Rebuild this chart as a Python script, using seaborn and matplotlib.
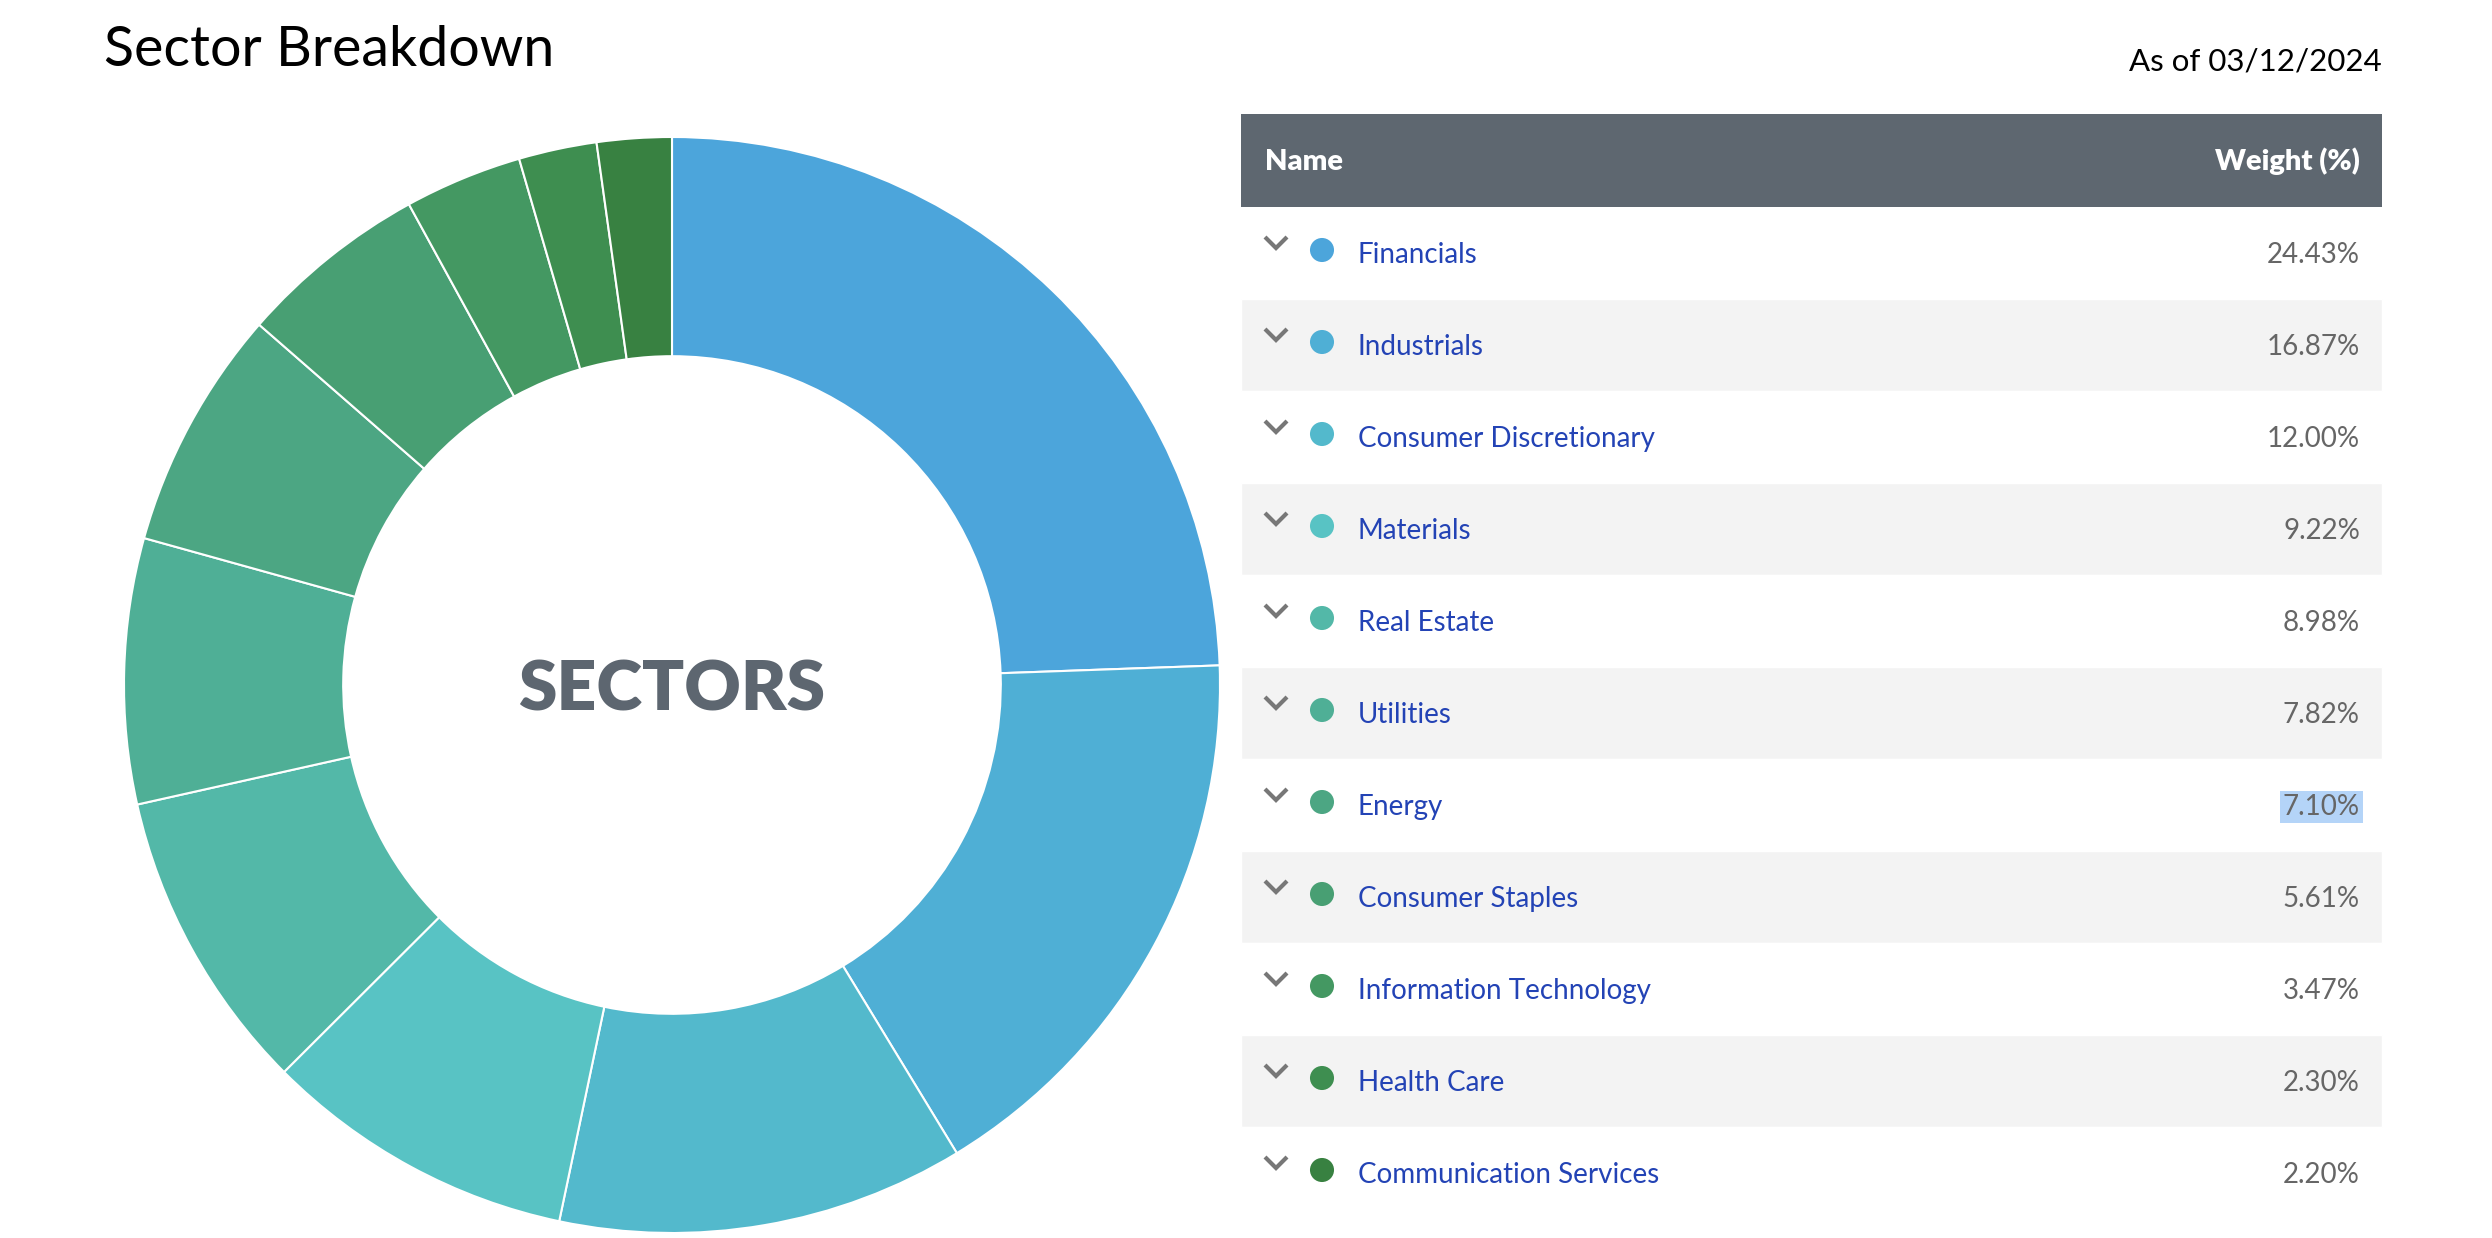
import numpy as np
import matplotlib.pyplot as plt
import seaborn as sns
import pandas as pd

# data
sectors = ["Financials", "Industrials", "Consumer Discretionary", "Materials",
           "Real Estate", "Utilities", "Energy", "Consumer Staples",
           "Information Technology", "Health Care", "Communication Services"]
weights = [24.43, 16.87, 12.00, 9.22, 8.98, 7.82, 7.10, 5.61, 3.47, 2.30, 2.20]
colors = ["#4ca5db", "#4fafd5", "#53b9cc", "#58c3c4", "#53b8a8", "#4faf96",
          "#4ca683", "#489f73", "#449862", "#3e8e50", "#388141"]
title = "Sector Breakdown"
as_of = "As of 03/12/2024"
center_label = "SECTORS"
col_names = ["Name", "Weight (%)"]
highlighted = "Energy"

sns.set_theme(style="white")
plt.rcParams["font.family"] = ["Lato", "DejaVu Sans"]

W, H = 2492, 1238
fig = plt.figure(figsize=(W / 100, H / 100), dpi=100)

# page layer, pixel coords
page = fig.add_axes([0, 0, 1, 1])

tab_l, tab_r = 1241, 2382
head_top, head_bot = 114, 207
row_h = 92

df = pd.DataFrame({"sector": sectors, "weight": weights})
df["yc"] = head_bot + row_h / 2 + row_h * np.arange(len(df))
df["bg"] = ["white" if i % 2 == 0 else "#f3f3f3" for i in range(len(df))]
df["dot_x"] = 1322
df["dot_y"] = df["yc"] - 3

page.barh(df["yc"], tab_r - tab_l, left=tab_l, height=row_h, color=df["bg"])
page.add_patch(plt.Rectangle((tab_l, head_top), tab_r - tab_l, head_bot - head_top,
                             color="#5e6770", lw=0))
page.text(1265, 170, col_names[0], color="white", fontsize=21, fontweight="heavy",
          va="baseline")
page.text(2360, 170, col_names[1], color="white", fontsize=21, fontweight="heavy",
          va="baseline", ha="right")

sns.scatterplot(data=df, x="dot_x", y="dot_y", hue="sector", palette=colors,
                s=300, linewidth=0, legend=False, ax=page)

for _, r in df.iterrows():
    yc = r["yc"]
    page.plot([1265, 1276, 1287], [yc - 16, yc - 5, yc - 16], color="#777777",
              lw=3, solid_joinstyle="miter", solid_capstyle="butt")
    page.text(1358, yc + 10, r["sector"], color="#2343b5", fontsize=20,
              va="baseline")
    box = None
    if r["sector"] == highlighted:
        box = dict(facecolor="#b4d4f8", edgecolor="none", pad=2.5)
    page.text(2360, yc + 10, f"{r['weight']:.2f}%", color="#666666", fontsize=20,
              va="baseline", ha="right", bbox=box)

page.text(104, 66, title, fontsize=40, color="black", va="baseline")
page.text(2382, 71, as_of, fontsize=22.5, color="black", ha="right", va="baseline")

page.set_xlim(0, W)
page.set_ylim(H, 0)
page.axis("off")

# donut
cx, cy, R = 672, 685, 548
donut = fig.add_axes([(cx - R) / W, (H - cy - R) / H, 2 * R / W, 2 * R / H])
donut.pie(df["weight"], colors=colors, startangle=90, counterclock=False, radius=1,
          wedgeprops=dict(width=0.4, edgecolor="white", linewidth=1.5))
donut.text(0, -0.047, center_label, fontsize=50, fontweight="heavy",
           color="#5d6670", ha="center", va="baseline")
donut.set_xlim(-1, 1)
donut.set_ylim(-1, 1)
donut.axis("off")

fig.savefig("out.png", dpi=100, facecolor="white")
